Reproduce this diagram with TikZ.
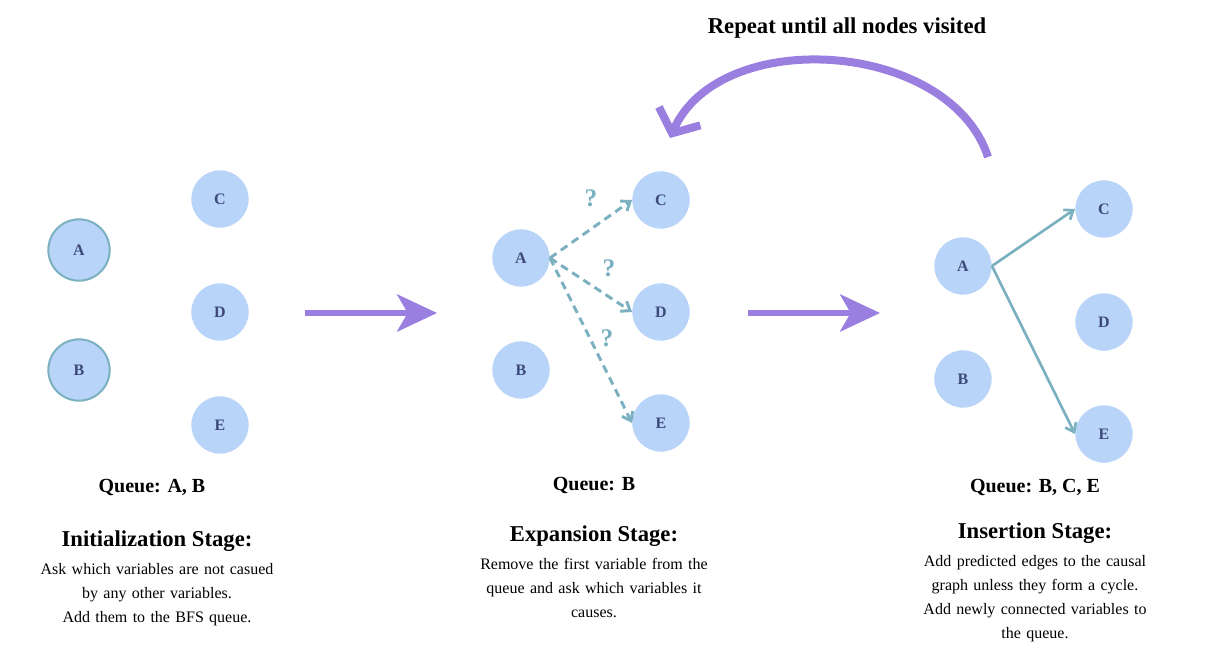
\documentclass[tikz,border=0pt]{standalone}
\usepackage{fontspec}
\setmainfont{Liberation Serif}
\usetikzlibrary{arrows.meta}
\definecolor{nfill}{HTML}{B8D4F8}
\definecolor{ntext}{HTML}{3D4A7A}
\definecolor{edgec}{HTML}{7AB0BF}
\definecolor{purp}{HTML}{9B7FE0}
\begin{document}
\begin{tikzpicture}[x=0.75pt,y=-0.75pt,
  nd/.style={circle,fill=nfill,minimum size=43pt,inner sep=0pt,text=ntext,font=\bfseries\fontsize{12}{14}\selectfont},
  ndb/.style={nd,draw=edgec,line width=1.5pt,minimum size=46pt},
  dashedge/.style={edgec,line width=2.2pt,dash pattern=on 6pt off 4pt,-{Straight Barb[length=6pt,width=9pt]}},
  solidedge/.style={edgec,line width=2pt,-{Straight Barb[length=6pt,width=9pt]}},
  big/.style={purp,line width=4pt,-{Stealth[length=30pt,width=28pt,inset=8pt]}},
  qm/.style={text=edgec,font=\bfseries\fontsize{19}{22}\selectfont},
  q/.style={font=\bfseries\fontsize{15}{18}\selectfont},
  hd/.style={font=\bfseries\fontsize{17}{20}\selectfont},
  body/.style={align=center,font=\fontsize{12}{18}\selectfont,text width=250pt}]
\useasboundingbox (0,0) rectangle (1215,652);
% stage 1
\node[ndb] (a1) at (79,250) {A};
\node[ndb] (b1) at (79,370) {B};
\node[nd] (c1) at (220,199) {C};
\node[nd] (d1) at (220,312) {D};
\node[nd] (e1) at (220,425) {E};
% stage 2
\node[nd] (a2) at (521,258) {A};
\node[nd] (b2) at (521,370) {B};
\node[nd] (c2) at (661,200) {C};
\node[nd] (d2) at (661,312) {D};
\node[nd] (e2) at (661,423) {E};
\draw[dashedge] (a2.east) -- (c2.west);
\draw[dashedge] (a2.east) -- (d2.west);
\draw[dashedge] (a2.east) -- (e2.west);
\node[qm] (q1) at (591,198) {?};
\node[qm] (q2) at (609,268) {?};
\node[qm] (q3) at (607,338) {?};
% stage 3
\node[nd] (a3) at (963,266) {A};
\node[nd] (b3) at (963,379) {B};
\node[nd] (c3) at (1104,209) {C};
\node[nd] (d3) at (1104,322) {D};
\node[nd] (e3) at (1104,434) {E};
\draw[solidedge] (a3.east) -- (c3.west);
\draw[solidedge] (a3.east) -- (e3.west);
% big arrows
\coordinate (s1) at (305,313); \coordinate (t1) at (437,313);
\coordinate (s2) at (748,313); \coordinate (t2) at (880,313);
\draw[big] (s1) -- (t1);
\draw[big] (s2) -- (t2);
\coordinate (cs) at (988,157); \coordinate (ct) at (670,138);
\draw[purp,line width=6pt,-{Straight Barb[length=14pt,width=34pt,line width=6pt]}] (cs) .. controls (950,40) and (720,25) .. (ct);
\node[font=\bfseries\fontsize{17}{20}\selectfont] (title) at (847,28) {Repeat until all nodes visited};
% labels
\node[q] (qa) at (152,488) {Queue: A, B};
\node[q] (qb) at (594,486) {Queue: B};
\node[q] (qc) at (1035,488) {Queue: B, C, E};
\node[hd] (h1) at (157,541) {Initialization Stage:};
\node[hd] (h2) at (594,536) {Expansion Stage:};
\node[hd] (h3) at (1035,533) {Insertion Stage:};
\node[body,anchor=north] (t1b) at (157,559) {Ask which variables are not casued\\ by any other variables.\\ Add them to the BFS queue.};
\node[body,anchor=north] (t2b) at (594,554) {Remove the first variable from the\\ queue and ask which variables it\\ causes.};
\node[body,anchor=north] (t3b) at (1035,551) {Add predicted edges to the causal\\ graph unless they form a cycle.\\ Add newly connected variables to\\ the queue.};
\end{tikzpicture}
\end{document}
